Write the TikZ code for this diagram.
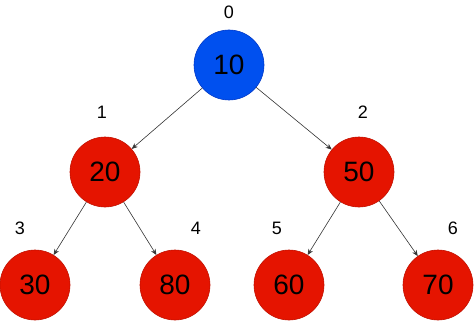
\documentclass[tikz,border=0pt]{standalone}
\usepackage{fontspec}
\setmainfont{Liberation Sans}
\usetikzlibrary{arrows.meta}
\definecolor{heapred}{HTML}{E51400}
\definecolor{heapredline}{HTML}{C21100}
\definecolor{heapblue}{HTML}{0050EF}
\definecolor{heapblueline}{HTML}{0039C8}
\begin{document}
\begin{tikzpicture}[
  x=1pt, y=1pt,
  key/.style={circle, minimum size=70pt, inner sep=0pt, line width=0.6pt,
              font=\fontsize{28}{30}\selectfont},
  redkey/.style={key, draw=heapredline, fill=heapred},
  rootkey/.style={key, draw=heapblueline, fill=heapblue},
  idx/.style={font=\fontsize{18}{20}\selectfont},
  link/.style={draw=black!80, line width=0.6pt, -{Stealth[length=6pt,width=5pt]}}
]
\useasboundingbox (0,0) rectangle (474,322);
\node[rootkey] (k0) at (229,257) {10};
\node[redkey] (k1) at (105,150) {20};
\node[redkey] (k2) at (359,150) {50};
\node[redkey] (k3) at (35,37) {30};
\node[redkey] (k4) at (175,37) {80};
\node[redkey] (k5) at (289,37) {60};
\node[redkey] (k6) at (438,37) {70};
\node[idx] (i0) at (229,310) {0};
\node[idx] (i1) at (102,210) {1};
\node[idx] (i2) at (363,210) {2};
\node[idx] (i3) at (20,94) {3};
\node[idx] (i4) at (196,94) {4};
\node[idx] (i5) at (277,94) {5};
\node[idx] (i6) at (453,94) {6};
\draw[link] (k0) -- (k1);
\draw[link] (k0) -- (k2);
\draw[link] (k1) -- (k3);
\draw[link] (k1) -- (k4);
\draw[link] (k2) -- (k5);
\draw[link] (k2) -- (k6);
\end{tikzpicture}
\end{document}
